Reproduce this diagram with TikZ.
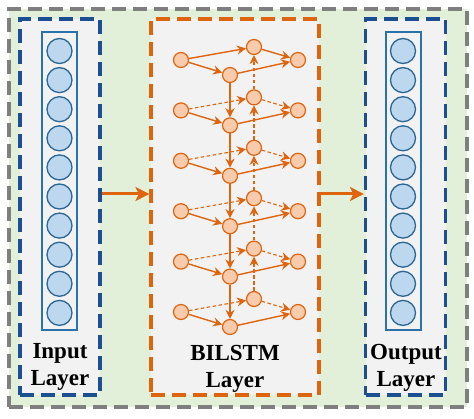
\documentclass[tikz,border=0pt]{standalone}
\usepackage{fontspec}
\setmainfont{Liberation Serif}
\usetikzlibrary{arrows.meta,calc}
\definecolor{myorange}{HTML}{DE640E}
\definecolor{nodefill}{HTML}{F8CBAD}
\definecolor{myblue}{HTML}{1C4F92}
\definecolor{rectblue}{HTML}{2A72AA}
\definecolor{circfill}{HTML}{BDD7EE}
\definecolor{circline}{HTML}{2A6794}
\definecolor{mygray}{HTML}{7F7F7F}
\definecolor{mygreen}{HTML}{E2F0D9}
\definecolor{boxfill}{HTML}{F2F2F2}
\tikzset{
  bigdash/.style={dash pattern=on 14pt off 7pt, line width=3.2pt},
  layerbox/.style={draw=myblue, fill=boxfill, bigdash, minimum width=80pt, minimum height=376pt, inner sep=0pt},
  bilbox/.style={draw=myorange, fill=boxfill, bigdash, minimum width=168pt, minimum height=376pt, inner sep=0pt},
  colrect/.style={draw=rectblue, line width=2pt, fill=boxfill, minimum width=35pt, minimum height=298pt, inner sep=0pt},
  cell/.style={circle, draw=circline, fill=circfill, line width=1.3pt, minimum size=25pt, inner sep=0pt},
  unit/.style={circle, draw=myorange, fill=nodefill, line width=1.2pt, minimum size=15pt, inner sep=0pt},
  fwd/.style={draw=myorange, line width=1.4pt, -{Stealth[length=9pt,width=9pt]}},
  bwd/.style={draw=myorange, line width=1.1pt, dash pattern=on 3.5pt off 2.5pt, -{Stealth[length=9pt,width=9pt]}},
  mainarrow/.style={draw=myorange, line width=3pt, -{Stealth[length=14pt,width=14pt,inset=3.5pt]}},
  lbl/.style={align=center, font=\bfseries\fontsize{23}{27}\selectfont, inner sep=0pt}
}
\begin{document}
\begin{tikzpicture}[x=1pt,y=-1pt]
\useasboundingbox (0,0) rectangle (474,419);
\fill[white] (0,0) rectangle (474,419);
\node[draw=mygray, fill=mygreen, bigdash, minimum width=458pt, minimum height=398pt, inner sep=0pt] (outer) at (238,208) {};
\node[layerbox] (inp) at (60,207) {};
\node[layerbox] (out) at (405.5,207) {};
\node[bilbox] (bil) at (235,207) {};
\node[colrect] (irect) at (59.5,181) {};
\node[colrect] (orect) at (403,181.5) {};
\foreach \i in {0,...,9} {
  \node[cell] (ic\i) at (59.5,51+29.1*\i) {};
  \node[cell] (oc\i) at (403,51+29.1*\i) {};
}
\node[lbl] (ilbl) at (60,367) {Input\\Layer};
\node[lbl] (olbl) at (406,367.5) {Output\\Layer};
\node[lbl] (blbl) at (235,369) {BILSTM\\Layer};
\foreach \k in {0,...,5} {
  \pgfmathsetmacro{\yy}{60+50.4*\k}
  \node[unit] (L\k) at (181,\yy) {};
  \node[unit] (D\k) at (230,\yy+15) {};
  \node[unit] (U\k) at (254,\yy-13) {};
  \node[unit] (R\k) at (298,\yy) {};
}
\draw[fwd] (L0) -- (U0);
\draw[fwd] (U0) -- (R0);
\foreach \k in {1,...,5} {
  \draw[bwd] (L\k) -- (U\k);
  \draw[bwd] (U\k) -- (R\k);
}
\foreach \k in {0,...,5} {
  \draw[fwd] (L\k) -- (D\k);
  \draw[fwd] (D\k) -- (R\k);
}
\foreach \k [evaluate=\k as \n using int(\k+1)] in {0,...,4} {
  \draw[fwd] (D\k) -- (D\n);
  \draw[bwd] (U\n) -- (U\k);
}
\coordinate (ay) at (0,194);
\draw[mainarrow] (inp.east |- ay) -- (bil.west |- ay);
\draw[mainarrow] (bil.east |- ay) -- (out.west |- ay);
\end{tikzpicture}
\end{document}
